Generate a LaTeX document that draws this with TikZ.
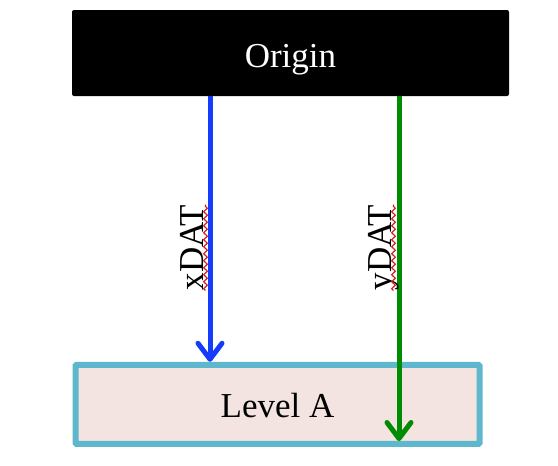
\documentclass[tikz,border=0pt]{standalone}
\usepackage{fontspec}
\setmainfont{Liberation Serif}
\usetikzlibrary{arrows.meta,decorations.pathmorphing}
\definecolor{bluearrow}{RGB}{20,60,250}
\definecolor{greenarrow}{RGB}{0,140,0}
\definecolor{levelborder}{RGB}{95,183,205}
\definecolor{levelfill}{RGB}{243,227,225}
\definecolor{squiggle}{RGB}{205,30,30}
\tikzset{
  originbox/.style={fill=black, rounded corners=2pt, minimum width=437pt, minimum height=86pt, inner sep=0pt, text=white, font=\fontsize{35}{40}\selectfont},
  levelbox/.style={draw=levelborder, line width=6pt, fill=levelfill, rounded corners=1pt, minimum width=404pt, minimum height=79pt, inner sep=0pt, font=\fontsize{35}{40}\selectfont},
  arrowline/.style={line width=5pt, -{Straight Barb[length=16pt,width=24pt,round]}},
  datlabel/.style={rotate=90, anchor=base, inner sep=0pt, font=\fontsize{35}{40}\selectfont},
  spell/.style={draw=squiggle, line width=1.1pt, decorate, decoration={zigzag, amplitude=1.8pt, segment length=7pt}}
}
\begin{document}
\begin{tikzpicture}[x=1pt,y=-1pt]
\useasboundingbox (0,0) rectangle (558,466);
\node[originbox] (origin) at (290.5,53) {\raisebox{-14pt}[0pt][0pt]{Origin}};
\node[levelbox] (level) at (277.5,404.3) {\raisebox{-13.5pt}[0pt][0pt]{Level A}};
\coordinate (gend) at (399,441);
\draw[arrowline, bluearrow] (origin.south -| 210,0) -- (level.north -| 210,0);
\draw[arrowline, greenarrow] (origin.south -| gend) -- (gend);
\node[datlabel] (xlab) at (203,247.5) {xDAT};
\node[datlabel] (ylab) at (391,247.5) {yDAT};
\draw[spell] ([xshift=2.5pt]xlab.base west) -- ([xshift=2.5pt]xlab.base east);
\draw[spell] ([xshift=2.5pt]ylab.base west) -- ([xshift=2.5pt]ylab.base east);
\end{tikzpicture}
\end{document}
